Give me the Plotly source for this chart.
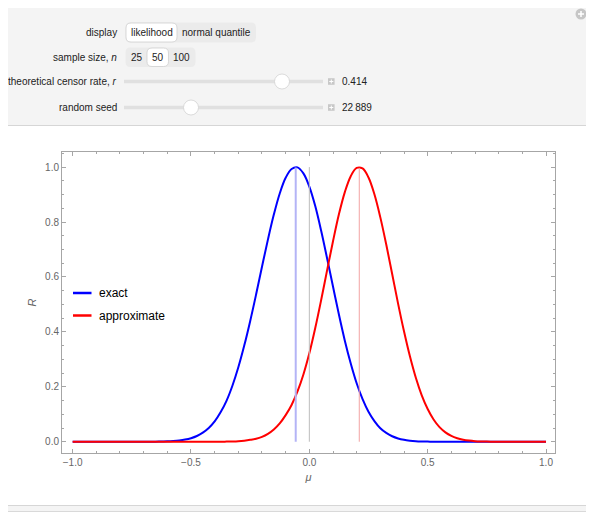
import plotly.graph_objects as go

# values
mu = [-1.000, -0.975, -0.950, -0.925, -0.900, -0.875, -0.850, -0.825, -0.800, -0.775,
      -0.750, -0.725, -0.700, -0.675, -0.650, -0.625, -0.600, -0.575, -0.550, -0.525,
      -0.500, -0.475, -0.450, -0.425, -0.400, -0.375, -0.350, -0.325, -0.300, -0.275,
      -0.250, -0.225, -0.200, -0.175, -0.150, -0.125, -0.100, -0.075, -0.050, -0.025,
      0.000, 0.025, 0.050, 0.075, 0.100, 0.125, 0.150, 0.175, 0.200, 0.225,
      0.250, 0.275, 0.300, 0.325, 0.350, 0.375, 0.400, 0.425, 0.450, 0.475,
      0.500, 0.525, 0.550, 0.575, 0.600, 0.625, 0.650, 0.675, 0.700, 0.725,
      0.750, 0.775, 0.800, 0.825, 0.850, 0.875, 0.900, 0.925, 0.950, 0.975,
      1.000]

exact = [0, 0, 0, 0, 0, 0, 0, 0, 0, 0,
         0, 0, 0, 0, 0, 0.0008, 0.0014, 0.0026, 0.0046, 0.0078,
         0.013, 0.021, 0.033, 0.050, 0.074, 0.107, 0.149, 0.204, 0.271, 0.350,
         0.439, 0.536, 0.637, 0.736, 0.827, 0.904, 0.961, 0.993, 0.999, 0.977,
         0.929, 0.858, 0.768, 0.668, 0.565, 0.463, 0.368, 0.285, 0.213, 0.155,
         0.109, 0.075, 0.049, 0.032, 0.020, 0.012, 0.007, 0.004, 0.002, 0.001,
         0.0005, 0, 0, 0, 0, 0, 0, 0, 0, 0,
         0, 0, 0, 0, 0, 0, 0, 0, 0, 0,
         0]

approximate = [0, 0, 0, 0, 0, 0, 0, 0, 0, 0,
               0, 0, 0, 0, 0, 0, 0, 0, 0, 0,
               0, 0, 0, 0, 0, 0, 0.0005, 0.001, 0.002, 0.004,
               0.007, 0.011, 0.018, 0.029, 0.045, 0.067, 0.097, 0.134, 0.183, 0.245,
               0.322, 0.414, 0.516, 0.624, 0.730, 0.828, 0.909, 0.967, 0.997, 0.995,
               0.962, 0.901, 0.817, 0.718, 0.611, 0.503, 0.402, 0.311, 0.233, 0.169,
               0.119, 0.081, 0.053, 0.034, 0.021, 0.0126, 0.0073, 0.0041, 0.0022, 0.0012,
               0.0006, 0.0003, 0, 0, 0, 0, 0, 0, 0, 0,
               0]

mle_exact = -0.0575
mle_approx = 0.211
true_mu = 0.0

censor_rate = "0.414"
seed = "22\u2009889"

# the page puts the figure 8px in from the corner, so work in page pixels
# and shift everything back by that amount
OFF = 8
W, H = 594 - OFF, 512 - OFF
L, R, T, B = 62, 555, 152, 453
FONT = "Liberation Sans, Arial, sans-serif"


def px(x):
    return (x - L) / (R - L)


def py(y):
    return (B - y) / (B - T)


def rrect(x0, y0, x1, y1, r, fill, line="rgba(0,0,0,0)", lw=0):
    pts = [
        ("M", x0 + r, y0), ("L", x1 - r, y0), ("Q", x1, y0, x1, y0 + r),
        ("L", x1, y1 - r), ("Q", x1, y1, x1 - r, y1), ("L", x0 + r, y1),
        ("Q", x0, y1, x0, y1 - r), ("L", x0, y0 + r), ("Q", x0, y0, x0 + r, y0),
    ]
    path = ""
    for p in pts:
        cmd = p[0]
        coords = p[1:]
        s = []
        for i in range(0, len(coords), 2):
            s.append(f"{px(coords[i]):.5f},{py(coords[i+1]):.5f}")
        path += cmd + " ".join(s) + " "
    path += "Z"
    return dict(type="path", xref="paper", yref="paper", path=path,
                fillcolor=fill, line=dict(color=line, width=lw), layer="below")


def box(x0, y0, x1, y1, fill, line="rgba(0,0,0,0)", lw=0, kind="rect", layer="below"):
    return dict(type=kind, xref="paper", yref="paper",
                x0=px(x0), x1=px(x1), y0=py(y1), y1=py(y0),
                fillcolor=fill, line=dict(color=line, width=lw), layer=layer)


def seg(x0, y0, x1, y1, color, width, layer="above"):
    return dict(type="line", xref="paper", yref="paper",
                x0=px(x0), x1=px(x1), y0=py(y0), y1=py(y1),
                line=dict(color=color, width=width), layer=layer)


def label(x, y, text, anchor="center", size=10, color="#222222"):
    return dict(x=px(x), y=py(y), xref="paper", yref="paper", text=text,
                showarrow=False, xanchor=anchor, yanchor="middle",
                font=dict(family=FONT, size=size, color=color))


fig = go.Figure()

fig.add_trace(go.Scatter(x=mu, y=exact, mode="lines", name="exact",
                         line=dict(color="#0000ff", width=2, shape="spline"),
                         showlegend=False))
fig.add_trace(go.Scatter(x=mu, y=approximate, mode="lines", name="approximate",
                         line=dict(color="#ff0000", width=2, shape="spline"),
                         showlegend=False))

# marker lines for the estimates and the true value
fig.add_trace(go.Scatter(x=[true_mu, true_mu], y=[0, 1], mode="lines",
                         line=dict(color="#bcbcbc", width=1), showlegend=False))
fig.add_trace(go.Scatter(x=[mle_exact, mle_exact], y=[0, max(exact)], mode="lines",
                         line=dict(color="#b4b4f6", width=2), showlegend=False))
fig.add_trace(go.Scatter(x=[mle_approx, mle_approx], y=[0, max(approximate)], mode="lines",
                         line=dict(color="#f3a3a3", width=1), showlegend=False))

shapes = []
# outer panel and plot panel
shapes.append(box(0.5, 0.5, 593.5, 511.5, "rgba(0,0,0,0)", "#d9d9d9", 1))
shapes.append(box(6.5, 125.5, 587.5, 505.5, "#ffffff", "#d6d6d6", 1))

# setter bars
shapes.append(rrect(125.5, 22.5, 256, 42.5, 5, "#ebebeb"))
shapes.append(rrect(126, 23, 177, 42, 5, "#ffffff", "#cfcfcf", 0.8))
shapes.append(rrect(125.5, 47.5, 195.5, 67, 5, "#ebebeb"))
shapes.append(rrect(147, 48, 168.5, 66.5, 5, "#ffffff", "#cfcfcf", 0.8))

# sliders
for yy, knob in [(81.5, 282), (107.5, 191)]:
    shapes.append(seg(124, yy, 323, yy, "#e0e0e0", 3.5, layer="below"))
    shapes.append(box(knob - 7.5, yy - 7.5, knob + 7.5, yy + 7.5, "#ffffff",
                      "#d2d2d2", 0.8, kind="circle", layer="above"))
    shapes.append(box(328, yy - 3.3, 334.6, yy + 3.3, "#c8c8c8", layer="above"))
    shapes.append(seg(331.3, yy - 2, 331.3, yy + 2, "#ffffff", 1))
    shapes.append(seg(329.3, yy, 333.3, yy, "#ffffff", 1))

# corner icon
shapes.append(box(575.5, 8.5, 586.5, 19.5, "#c6c6c6", kind="circle", layer="above"))
shapes.append(seg(581, 11, 581, 17, "#ffffff", 1.5))
shapes.append(seg(578, 14, 584, 14, "#ffffff", 1.5))

# legend samples
shapes.append(seg(73, 293, 91.5, 293, "#0000ff", 2.5))
shapes.append(seg(73, 315.5, 91.5, 315.5, "#ff0000", 2.5))

annotations = [
    label(118.5, 32.5, "display", "right"),
    label(151.5, 32.5, "likelihood"),
    label(216, 32.5, "normal quantile"),
    label(119, 57, "sample size, <i>n</i>", "right"),
    label(136.5, 57, "25"),
    label(157.7, 57, "50"),
    label(181.5, 57, "100"),
    label(119, 81.5, "theoretical censor rate, <i>r</i>", "right"),
    label(339.5, 81.5, censor_rate, "left"),
    label(119, 107.5, "random seed", "right"),
    label(339.5, 107.5, seed, "left"),
    label(97, 293, "exact", "left", 12, "#000000"),
    label(97, 315.5, "approximate", "left", 12, "#000000"),
]

axis_style = dict(
    showline=True, linecolor="#a6a6a6", linewidth=1, mirror="ticks",
    ticks="inside", ticklen=4, tickcolor="#a6a6a6", tickwidth=1,
    showgrid=False, zeroline=False, tickformat=".1f",
    tickfont=dict(family=FONT, size=10, color="#666666"),
)

fig.update_layout(
    width=W, height=H,
    margin=dict(l=L - OFF, r=W - (R - OFF), t=T - OFF, b=H - (B - OFF), pad=0),
    paper_bgcolor="#f4f4f4",
    plot_bgcolor="#ffffff",
    font=dict(family=FONT),
    shapes=shapes,
    annotations=annotations,
    xaxis=dict(axis_style, range=[-1.045, 1.038], dtick=0.5, tick0=0,
               minor=dict(ticks="inside", ticklen=2, dtick=0.1, tick0=0, tickcolor="#a6a6a6"),
               title=dict(text="<i>μ</i>", standoff=6,
                          font=dict(family=FONT, size=11, color="#666666"))),
    yaxis=dict(axis_style, range=[-0.041, 1.055], dtick=0.2, tick0=0,
               minor=dict(ticks="inside", ticklen=2, dtick=0.05, tick0=0, tickcolor="#a6a6a6"),
               title=dict(text="<i>R</i>", standoff=6,
                          font=dict(family=FONT, size=11, color="#666666"))),
)

fig.write_html("out.html")
